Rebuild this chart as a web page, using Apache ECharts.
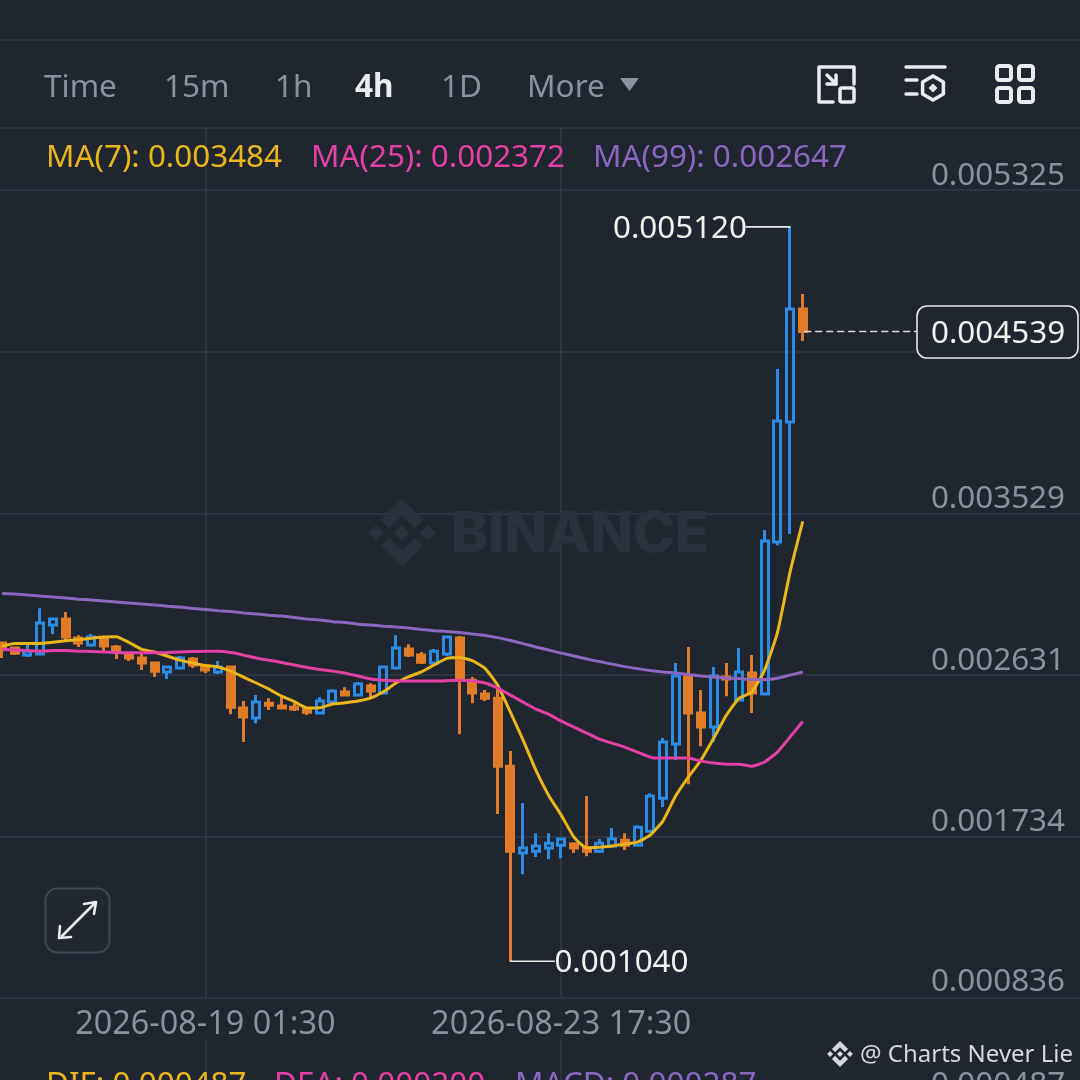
<!DOCTYPE html>
<html><head><meta charset="utf-8">
<style>html,body{margin:0;padding:0;background:#1f2630;overflow:hidden}#c{width:1080px;height:1080px}</style>
<script src="https://cdn.jsdelivr.net/npm/echarts@6/dist/echarts.min.js"></script>
</head><body><div id="c"></div>
<script>
// all prices below are in millionths (0.000001)
const opens = [2808,2780,2741,2747,2908,2941,2836,2797,2836,2786,
 2747,2725,2697,2647,2669,2719,2680,2647,2675,2447,
 2391,2474,2458,2452,2441,2419,2480,2536,2519,2569,
 2530,2669,2775,2741,2697,2747,2836,2602,2525,2502,
 2124,1641,1652,1669,1685,1691,1669,1652,1680,1713,
 1685,1763,1946,2247,2625,2419,2341,2619,2491,2641,
 2525,3369,4036,4664];
const closes = [2775,2752,2763,2919,2941,2841,2808,2841,2791,2758,
 2725,2697,2652,2675,2725,2686,2658,2675,2452,2397,
 2480,2463,2447,2441,2424,2486,2541,2519,2580,2541,
 2675,2780,2741,2702,2763,2841,2608,2530,2502,2124,
 1652,1669,1680,1696,1719,1669,1652,1696,1719,1685,
 1785,1958,2258,2625,2419,2341,2625,2608,2647,2530,
 3375,4041,4664,4539];
const lows = [2725,2741,2730,2741,2858,2825,2786,2797,2758,2719,
 2708,2658,2619,2608,2669,2669,2641,2636,2413,2258,
 2363,2436,2447,2430,2408,2419,2480,2513,2519,2508,
 2530,2669,2730,2691,2697,2736,2302,2474,2486,1858,
 1040,1524,1619,1607,1613,1641,1624,1641,1680,1658,
 1680,1758,1897,2158,2024,2235,2258,2513,2491,2419,
 2519,3352,3414,4486];
const highs = [2808,2786,2808,3002,2941,2980,2852,2858,2841,2797,
 2752,2758,2702,2675,2736,2730,2691,2708,2675,2486,
 2519,2502,2513,2474,2452,2508,2552,2563,2591,2585,
 2680,2852,2802,2758,2775,2847,2847,2619,2547,2558,
 2208,1919,1752,1752,1724,1702,1958,1719,1780,1752,
 1796,1974,2280,2697,2786,2547,2675,2697,2780,2741,
 3436,4330,5120,4747];
const ma7 = [2791,2805,2805,2806,2813,2821,2827,2834,2841,2843,
 2811,2773,2758,2736,2713,2697,2683,2675,2652,2619,
 2586,2552,2513,2482,2447,2448,2469,2476,2486,2502,
 2537,2586,2621,2648,2686,2723,2728,2710,2667,2574,
 2424,2269,2102,1963,1852,1730,1669,1674,1680,1691,
 1702,1741,1819,1958,2063,2158,2280,2408,2502,2536,
 2658,2863,3202,3484];
const ma25 = [2772,2769,2766,2763,2766,2766,2763,2761,2758,2755,
 2754,2754,2754,2755,2758,2761,2762,2762,2755,2741,
 2725,2713,2700,2686,2672,2661,2652,2641,2625,2608,
 2602,2599,2597,2597,2597,2599,2602,2597,2586,2558,
 2519,2480,2441,2413,2374,2341,2308,2274,2252,2230,
 2202,2174,2169,2169,2169,2152,2141,2135,2135,2124,
 2147,2202,2286,2372];
const ma99 = [3083,3080,3075,3069,3064,3058,3052,3047,3041,3036,
 3030,3025,3019,3013,3008,3000,2994,2988,2983,2975,
 2969,2963,2958,2950,2941,2936,2927,2922,2913,2908,
 2902,2897,2891,2883,2877,2872,2866,2858,2850,2838,
 2822,2805,2786,2769,2752,2736,2719,2705,2691,2677,
 2666,2655,2647,2641,2633,2625,2619,2613,2611,2605,
 2605,2613,2630,2647];
const tickValues = [836,1734,2631,3529,4427,5325];
const labelValues = [836,1734,2631,3529,5325];
const axisFloor = 836, axisCeil = 5669.5;
const labelledCandles = [16,44];
const tabs = ["Time","15m","1h","4h","1D","More"];
const macdLegend = ["DIF: 0.000487","DEA: 0.000200","MACD: 0.000287"];
const macdTop = "0.000487";
const highCandle = 62, lowCandle = 40, lastCandle = 63;

const M = 1e-6, toPrice = a => a.map(v => +(v * M).toFixed(7));
const fmt = v => v.toFixed(6);
const pad = n => String(n).padStart(2, "0");
const categories = Array.from({length: 86}, (_, i) => {
  const d = new Date(Date.UTC(2026, 7, 16, 9, 30) + i * 4 * 3600e3);
  return d.getUTCFullYear() + "-" + pad(d.getUTCMonth() + 1) + "-" + pad(d.getUTCDate()) + " " + pad(d.getUTCHours()) + ":" + pad(d.getUTCMinutes());
});
const candles = opens.map((o, i) => [o * M, closes[i] * M, lows[i] * M, highs[i] * M]);

const BG = "#1f2630", LINE = "#333a46", GREY = "#8b929e", WHITE = "#eaecef";
const BLUE = "#2b8ce6", ORANGE = "#e07c28", YEL = "#ecb518", PINK = "#e440a6", PUR = "#8c66c0";
const FONT = '"Noto Sans"';
const chart = echarts.init(document.getElementById("c"), null, {renderer: "canvas"});
const showAt = i => labelledCandles.includes(i);
const xBase = {type: "category", data: categories, boundaryGap: true,
  axisLine: {show: false}, axisTick: {show: false},
  splitLine: {show: true, interval: showAt, alignWithLabel: true, lineStyle: {color: LINE, width: 1.5}}};
const maLine = (name, data, color) => ({type: "line", name, data: toPrice(data), showSymbol: false, symbol: "none",
  smooth: 0.15, lineStyle: {color, width: 3}, z: 5, silent: true});

chart.setOption({
  animation: false, backgroundColor: BG,
  grid: [{left: -4.35, width: 1093.06, top: 128, height: 870, outerBoundsMode: "none"},
         {left: -4.35, width: 1093.06, top: 1040, height: 60, outerBoundsMode: "none"}],
  xAxis: [
    Object.assign({}, xBase, {gridIndex: 0, position: "bottom",
      axisLabel: {show: true, interval: showAt, color: GREY, fontFamily: FONT, fontSize: 32.4, margin: 11, hideOverlap: false}}),
    Object.assign({}, xBase, {gridIndex: 1, position: "top", axisLabel: {show: false},
      axisLine: {show: true, lineStyle: {color: LINE, width: 1.5}}})
  ],
  yAxis: [
    {type: "value", gridIndex: 0, position: "right", scale: true, min: axisFloor * M, max: axisCeil * M,
     axisLine: {show: false},
     axisTick: {show: false, customValues: toPrice(tickValues)},
     splitLine: {show: true, lineStyle: {color: LINE, width: 1.5}},
     axisLabel: {show: true, inside: true, margin: 23.7, verticalAlign: "bottom", color: GREY, fontFamily: FONT, fontSize: 31.4, lineHeight: 28,
       customValues: toPrice(labelValues), showMinLabel: true, showMaxLabel: true,
       formatter: v => Math.abs(v - axisFloor * M) < 1e-7 ? "{low|" + fmt(v) + "}" : fmt(v),
       rich: {low: {padding: [0, 0, 4, 0], color: GREY, fontFamily: FONT, fontSize: 31.4, lineHeight: 28}}}},
    {type: "value", gridIndex: 1, show: false, min: 0, max: 1}
  ],
  series: [
    {type: "candlestick", name: "Price", xAxisIndex: 0, yAxisIndex: 0, data: candles, barWidth: 7.5, silent: true, z: 3,
     itemStyle: {color: "transparent", color0: ORANGE, borderColor: BLUE, borderColor0: ORANGE, borderWidth: 3}},
    maLine("MA(7)", ma7, YEL), maLine("MA(25)", ma25, PINK), maLine("MA(99)", ma99, PUR)
  ]
});

const px = (i, v) => chart.convertToPixel({xAxisIndex: 0, yAxisIndex: 0}, [i, v * M]);
const txt = (text, x, y, fill, size, extra) => ({type: "text", z: 20, silent: true,
  style: Object.assign({text, x, y, fill, font: (extra && extra.weight || "400") + " " + size + "px " + FONT, textVerticalAlign: "middle", textAlign: "left"}, extra && extra.style)});
const seg = (x1, y1, x2, y2, stroke, w, dash, z) => ({type: "line", z: z || 20, silent: true,
  shape: {x1, y1, x2, y2}, style: {stroke, lineWidth: w, lineDash: dash || null, lineCap: "round"}});
const poly = (points, stroke, w) => ({type: "polyline", z: 20, silent: true, shape: {points},
  style: {stroke, lineWidth: w, fill: null, lineJoin: "round", lineCap: "round"}});
const rr = (x, y, width, height, r, stroke, w, fill) => ({type: "rect", z: 20, silent: true,
  shape: {x, y, width, height, r}, style: {stroke, lineWidth: w, fill: fill || null}});
const logo = (cx, cy, s, color, z) => {
  const P = pts => ({type: "polygon", z: z, silent: true, shape: {points: pts.map(p => [cx + p[0] * s, cy + p[1] * s])}, style: {fill: color}});
  const dia = (x, h) => [[x - h, 0], [x, -h], [x + h, 0], [x, h]];
  return [P([[0,-1],[.62,-.38],[.38,-.14],[0,-.52],[-.38,-.14],[-.62,-.38]]),
          P([[0,1],[.62,.38],[.38,.14],[0,.52],[-.38,.14],[-.62,.38]]),
          P(dia(0,.23)), P(dia(-.76,.23)), P(dia(.76,.23))];
};

const hi = px(highCandle, highs[highCandle]);
const lo = px(lowCandle, lows[lowCandle]);
const la = px(lastCandle, closes[lastCandle]);
const tabX = [44,164,275,355,441,527];
const ICON = "#eaecef";
const hex = (cx, cy, r) => { const a = []; for (let k = 0; k < 7; k++) { const t = Math.PI / 3 * k - Math.PI / 2; a.push([cx + r * Math.cos(t), cy + r * Math.sin(t)]); } return a; };

chart.setOption({graphic: {elements: [].concat(
  [seg(0,40,1080,40,LINE,1.5), seg(0,128,1080,128,LINE,1.5)],
  tabs.map((t, i) => txt(t, tabX[i], 88, t === "4h" ? WHITE : GREY, 31.5, {weight: t === "4h" ? "700" : "400"})),
  [{type: "polygon", z: 20, silent: true, shape: {points: [[620,78],[639,78],[629.5,91]]}, style: {fill: GREY}}],
  // top-right icons
  [poly([[854,84],[854,67],[819,67],[819,102],[833,102]], ICON, 3.5), rr(840,88,14,14,2,ICON,3.5),
   poly([[827,75],[836,84]], ICON, 3.5), poly([[827,84],[836,84],[836,75]], ICON, 3.5),
   seg(906,67,945,67,ICON,3.5), seg(906,80,917,80,ICON,3.5), seg(906,94,917,94,ICON,3.5),
   poly(hex(933,88,12), ICON, 3.5),
   {type: "polygon", z: 20, silent: true, shape: {points: [[933,83.5],[937.5,88],[933,92.5],[928.5,88]]}, style: {fill: ICON}},
   rr(997,66,14,14,2.5,ICON,4), rr(1019,66,14,14,2.5,ICON,4), rr(997,88,14,14,2.5,ICON,4), rr(1019,88,14,14,2.5,ICON,4)],
  // MA legend
  [txt("MA(7): " + fmt(ma7[lastCandle] * M), 46, 158, YEL, 31.4),
   txt("MA(25): " + fmt(ma25[lastCandle] * M), 311, 158, PINK, 31.4),
   txt("MA(99): " + fmt(ma99[lastCandle] * M), 593, 158, PUR, 31.4)],
  // watermark
  logo(402, 533, 34, "#2a313c", 1),
  [{type: "text", z: 1, silent: true, style: {text: "BINANCE", x: 451, y: 535, fill: "#2a313c", font: '800 56px Inter', textVerticalAlign: "middle"}}],
  // high / low / last annotations
  [seg(hi[0] - 44, hi[1], hi[0], hi[1], "#e8e8e8", 1.6),
   txt(fmt(highs[highCandle] * M), hi[0] - 43, hi[1] + 2, "#f2f2f2", 31.4, {style: {textAlign: "right"}}),
   seg(lo[0], lo[1], lo[0] + 44, lo[1], "#e8e8e8", 1.6),
   txt(fmt(lows[lowCandle] * M), lo[0] + 44, lo[1] + 2, "#f2f2f2", 31.4),
   seg(la[0] + 2, la[1], 916, la[1], "#d8d8d8", 1.6, [6, 5]),
   rr(917, 306, 161, 52, 10, "#e8e8e8", 1.6, BG),
   txt(fmt(closes[lastCandle] * M), 931, 334, "#f2f2f2", 31.4)],
  // expand button
  [rr(45.5,888.5,64,64,12,"#3f4752",2,"#20272f"),
   poly([[62,936],[94,904]], ICON, 2.6), poly([[84,904],[96,902],[94,914]], ICON, 2.6), poly([[60,926],[59,938],[71,937]], ICON, 2.6)],
  // bottom strip
  macdLegend.map((t, i) => txt(t, [46,274,515][i], 1085, [YEL,PINK,PUR][i], 31.4)),
  [txt(macdTop, 931, 1085, GREY, 31.4)],
  logo(840, 1054, 13, "#d5d8dc", 21),
  [txt("@ Charts Never Lie", 860, 1055, "#d5d8dc", 24)]
)}});
</script></body></html>
